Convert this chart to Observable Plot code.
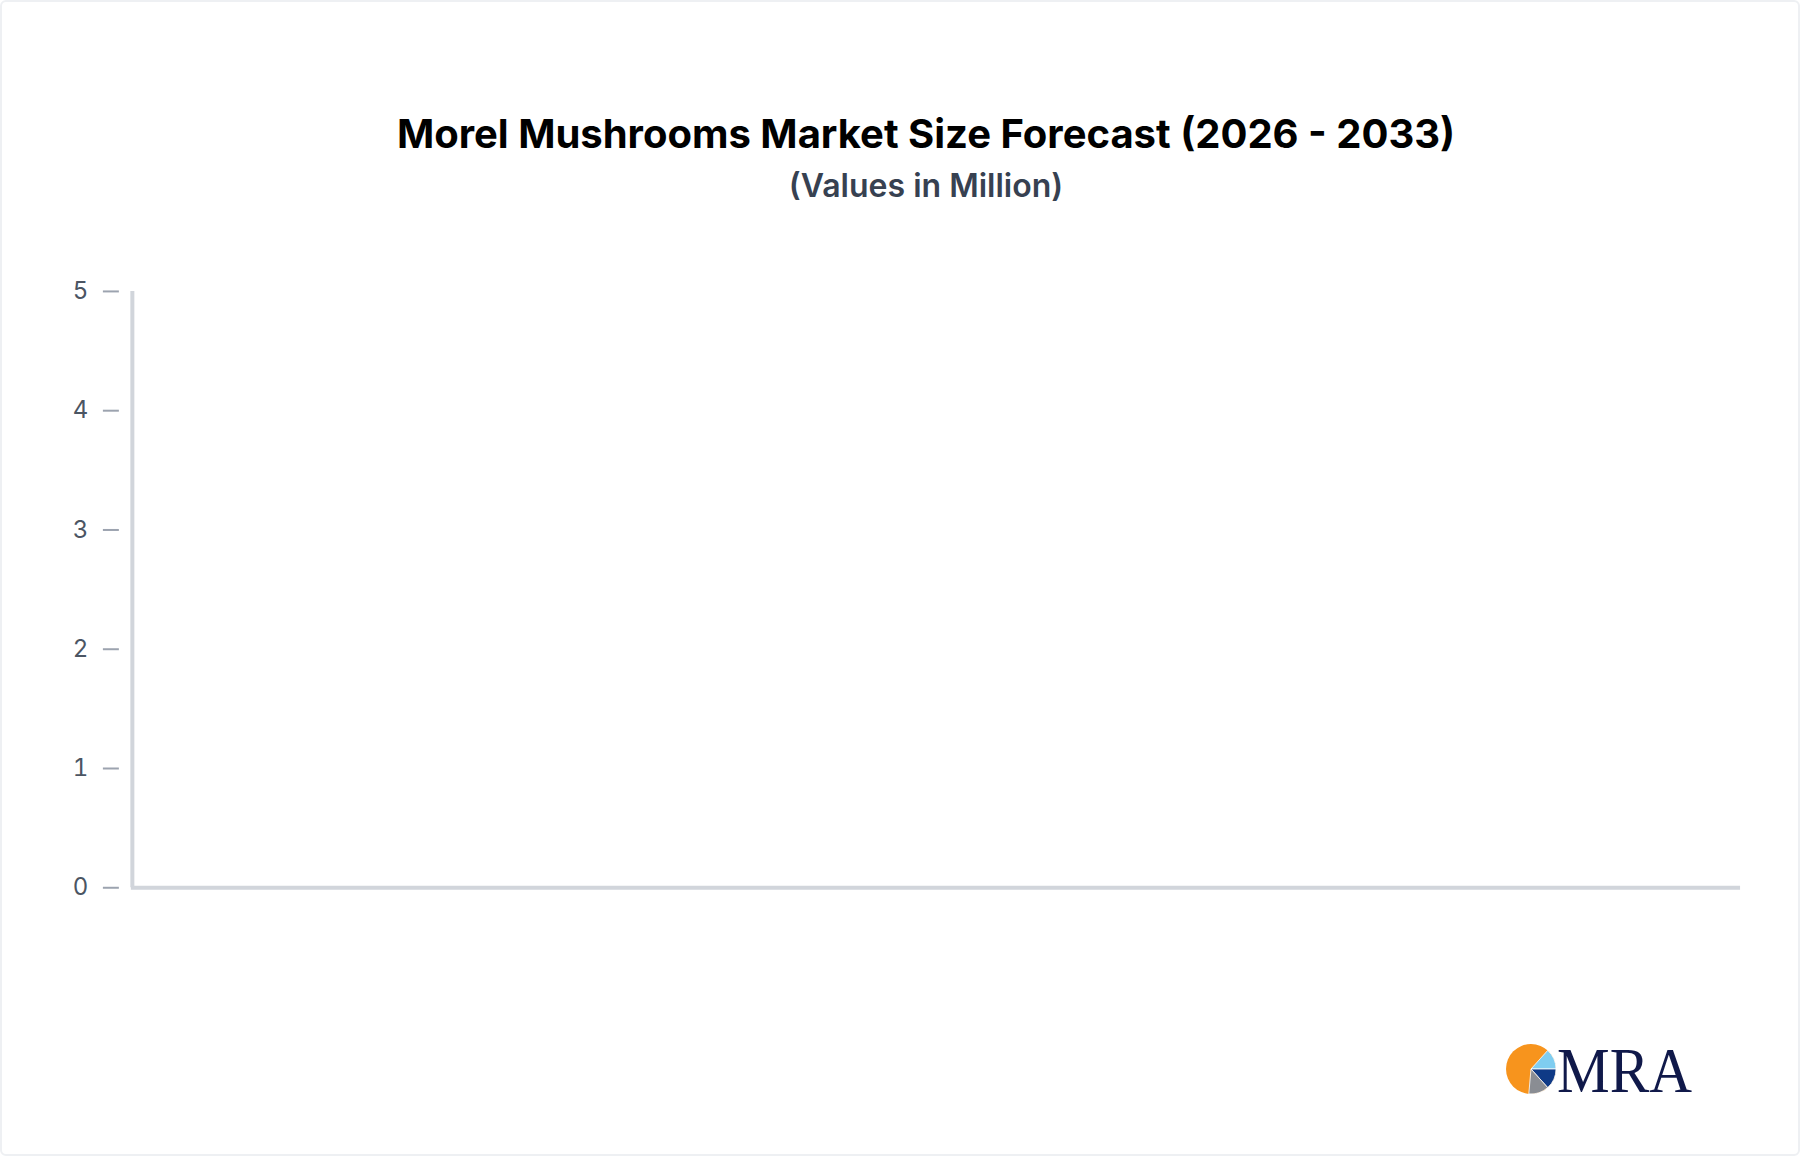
<!DOCTYPE html>
<html>
<head>
<meta charset="utf-8">
<script src="https://cdn.jsdelivr.net/npm/d3@7"></script>
<script src="https://cdn.jsdelivr.net/npm/@observablehq/plot@0.6"></script>
<style>
  html, body { margin: 0; padding: 0; background: #fff; }
  #page { position: relative; width: 1800px; height: 1156px; box-sizing: border-box;
          border: 2px solid #eef0f3; border-radius: 6px; overflow: hidden; font-family: Inter, "Noto Sans", sans-serif; }
  #title { position: absolute; left: 0; width: 1848px; top: 109px; text-align: center;
           font-size: 40px; font-weight: 700; color: #000; line-height: 46px; }
  #subtitle { position: absolute; left: 0; width: 1848px; top: 166px; text-align: center;
              font-size: 32px; font-weight: 600; color: #374151; line-height: 36px; }
  #chart { position: absolute; left: -2px; top: 228px; }
  #logo { position: absolute; left: 1494px; top: 1033px; }
</style>
</head>
<body>
<div id="page">
  <div id="title">Morel Mushrooms Market Size Forecast (2026 - 2033)</div>
  <div id="subtitle">(Values in Million)</div>
  <div id="chart"></div>
  <svg id="logo" width="210" height="70" viewBox="0 0 210 70">
    <g transform="translate(35,34)">
      <circle r="25" fill="#f7941d"></circle>
      <path d="M0,0 L16.7,-18.6 A25,25 0 0 1 25,0 Z" fill="#7fcdf0" stroke="#ffffff" stroke-width="0.8"></path>
      <path d="M0,0 L25,0 A25,25 0 0 1 16.7,18.6 Z" fill="#0f3a86" stroke="#ffffff" stroke-width="0.8"></path>
      <path d="M0,0 L16.7,18.6 A25,25 0 0 1 -2.2,24.9 Z" fill="#8a8d93" stroke="#ffffff" stroke-width="0.8"></path>
    </g>
    <text x="61" y="57" font-family="'Liberation Serif', 'DejaVu Serif', serif" font-size="64" fill="#10194a" textLength="135" lengthAdjust="spacingAndGlyphs">MRA</text>
  </svg>
</div>
<script>
// Categories (forecast years) – no series values are visible in the reference chart
const years = ["2026", "2027", "2028", "2029", "2030", "2031", "2032", "2033"];
const values = [];
const yTicks = [0, 1, 2, 3, 4, 5];

const data = values.map((v, i) => ({year: years[i], value: v}));

const chart = Plot.plot({
  width: 1800,
  height: 700,
  marginTop: 61,
  marginBottom: 42,
  marginLeft: 131,
  marginRight: 58,
  style: {fontFamily: "Inter, 'Noto Sans', sans-serif", fontSize: "24px", background: "transparent", overflow: "visible"},
  x: {type: "point", domain: years, padding: 0, axis: null},
  y: {domain: [yTicks[0], yTicks[yTicks.length - 1]], label: null},
  marks: [
    Plot.axisY({ticks: yTicks, tickFormat: "d", tickSize: 16, tickPadding: 15, dx: -12, stroke: "#9ca3af", strokeWidth: 2, fill: "#4b5563", label: null}),
    Plot.ruleX([years[0]], {stroke: "#d1d5db", strokeWidth: 4}),
    Plot.ruleY([yTicks[0]], {stroke: "#d1d5db", strokeWidth: 4}),
    Plot.lineY(data, {x: "year", y: "value", stroke: "#f7941d"})
  ]
});
document.getElementById("chart").appendChild(chart);
</script>
</body>
</html>
